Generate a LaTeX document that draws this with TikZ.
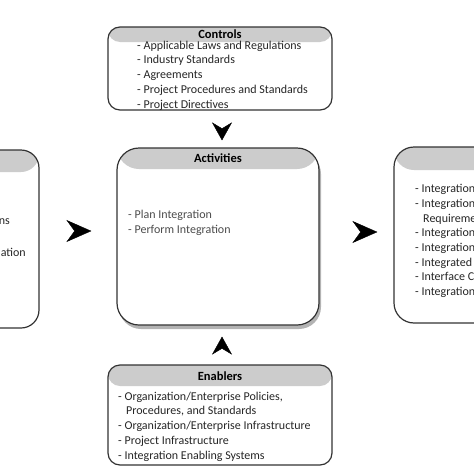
\documentclass[tikz,border=0pt]{standalone}
\usepackage{fontspec}
\setmainfont{Carlito}
\usetikzlibrary{arrows.meta,shadows}

\begin{document}
\begin{tikzpicture}[x=1pt,y=-1pt,
    box/.style={draw=black!80, line width=1.2pt, fill=white, inner sep=0pt,
        path picture={\fill[gray!40] (path picture bounding box.north west)
            rectangle ([yshift=-#1]path picture bounding box.north east);}},
    head/.style={font=\bfseries\fontsize{12.5}{15}\selectfont},
    items/.style={align=left, inner sep=0pt, text=black!85, font=\fontsize{12}{14.7}\selectfont},
    tipv/.style={draw=white, -{Stealth[length=18pt,width=20pt,inset=6pt,black]}},
    tiph/.style={draw=white, -{Stealth[length=25pt,width=22pt,inset=8pt,black]}}]
            \useasboundingbox (0,0) rectangle (474,474);
            \clip (0,0) rectangle (474,474);
            %上方 Controls
            \node[box=15pt, rounded corners=12pt, minimum width=224pt, minimum height=83pt] (controls) at (220,68.5) {};
            \node[head] (ctitle) at (220,34) {Controls};
            \node[items, anchor=west] (clist) at (137,75.5) {- Applicable Laws and Regulations\\- Industry Standards\\- Agreements\\- Project Procedures and Standards\\- Project Directives};
            %中间 Activities, 带阴影
            \node[box=21pt, rounded corners=22pt, minimum width=202pt, minimum height=177pt,
                drop shadow={shadow xshift=2pt, shadow yshift=-4pt, opacity=0.6}] (activities) at (218,236.5) {};
            \node[head] (atitle) at (218,158) {Activities};
            \node[items, anchor=west, text=black!70] (alist) at (128,223) {- Plan Integration\\- Perform Integration};
            %下方 Enablers
            \node[box=21pt, rounded corners=12pt, minimum width=224pt, minimum height=100pt] (enablers) at (220,415) {};
            \node[head] (etitle) at (220,376) {Enablers};
            \node[items, anchor=west] (elist) at (118,426.5) {- Organization/Enterprise Policies,\\\hspace*{8pt}Procedures, and Standards\\- Organization/Enterprise Infrastructure\\- Project Infrastructure\\- Integration Enabling Systems};
            %左右两边只露出一部分
            \node[box=22pt, rounded corners=18pt, minimum width=199pt, minimum height=178pt] (inputs) at (-60.5,239) {};
            \node[items, anchor=east] (in1) at (10,222) {ns};
            \node[items, anchor=east] (in2) at (26,252) {ation};
            \node[box=23pt, rounded corners=20pt, minimum width=246pt, minimum height=176pt] (outputs) at (517,235) {};
            \node[items, anchor=west] (olist) at (415,241) {- Integration\\- Integration\\\hspace*{8pt}Requireme\\- Integration\\- Integration\\- Integrated\\- Interface C\\- Integration};
            %箭头
            \draw[tipv, shorten <=13pt, shorten >=7pt] ([xshift=2pt]controls.south) -- ([xshift=4pt]activities.north);
            \draw[tipv, shorten <=11pt, shorten >=11pt] ([xshift=2pt]enablers.north) -- ([xshift=4pt]activities.south);
            \draw[tiph, shorten <=28pt, shorten >=25pt] ([yshift=8pt]inputs.east) -- ([yshift=5.5pt]activities.west);
            \draw[tiph, shorten <=34pt, shorten >=16pt] ([yshift=4.5pt]activities.east) -- ([yshift=3pt]outputs.west);
        \end{tikzpicture}
\end{document}
